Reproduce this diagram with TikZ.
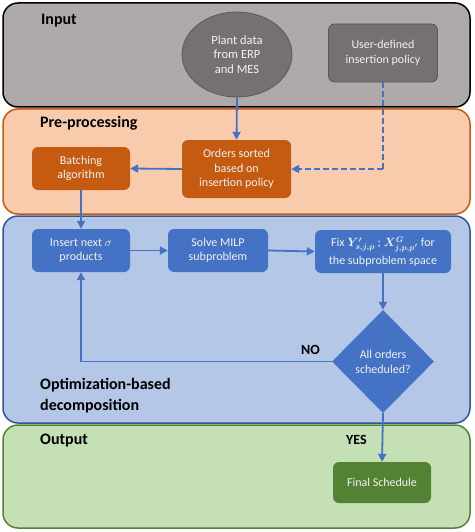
\documentclass[tikz,border=0pt]{standalone}
\usepackage{amsmath}
\usepackage{bm}
\usepackage{fontspec}
\setmainfont{Carlito}
\usetikzlibrary{shapes.geometric,arrows.meta}
\definecolor{ingray}{HTML}{AEAAAA}
\definecolor{darkgray}{HTML}{767171}
\definecolor{darkborder}{HTML}{595959}
\definecolor{prefill}{HTML}{F8CBAD}
\definecolor{preline}{HTML}{C55A11}
\definecolor{optfill}{HTML}{B4C7E7}
\definecolor{optline}{HTML}{2F5597}
\definecolor{nodeblue}{HTML}{4472C4}
\definecolor{outfill}{HTML}{C5E0B4}
\definecolor{outline}{HTML}{548235}
\definecolor{txtlight}{HTML}{F2F2F2}
\tikzset{
  band/.style={rounded corners=15pt, line width=1.5pt},
  hdr/.style={anchor=base west, font=\fontsize{16}{19}\selectfont\bfseries, inner sep=0pt},
  lbl/.style={anchor=base west, font=\fontsize{14}{16}\selectfont\bfseries, inner sep=0pt},
  box/.style={rounded corners=6pt, inner sep=0pt, align=center, text=txtlight,
    font=\fontsize{12}{14.5}\selectfont},
  conn/.style={draw=nodeblue, line width=1.8pt, -{Triangle[length=8pt,width=8pt]}},
  dline/.style={draw=nodeblue, line width=1.8pt, dash pattern=on 6pt off 3pt},
}
\begin{document}
\begin{tikzpicture}[x=1pt,y=-1pt]
\useasboundingbox (0,0) rectangle (474,532);
% bands
\path[band, fill=ingray, draw=black] (3,3) rectangle (470,107);
\path[band, fill=prefill, draw=preline] (3,109) rectangle (470,214);
\path[band, fill=optfill, draw=optline] (3,216) rectangle (470,423);
\path[band, fill=outfill, draw=outline] (3,425) rectangle (470,528);
% headers
\node[hdr] (hin) at (41,25) {Input};
\node[hdr] (hpre) at (40,128) {Pre-processing};
\node[hdr] (hopt) at (40,389) {Optimization-based};
\node[hdr] (hopt2) at (40,410) {decomposition};
\node[hdr] (hout) at (40,444) {Output};
% nodes
\node[ellipse, fill=darkgray, draw=darkborder, line width=0.8pt, minimum width=110pt, minimum height=85pt,
  inner sep=0pt, align=center, text=txtlight, font=\fontsize{12.5}{14.5}\selectfont] (plant) at (237,54.5)
  {Plant data\\from ERP\\and MES};
\node[box, fill=darkgray, draw=darkborder, line width=0.8pt, minimum width=109pt, minimum height=58pt] (user) at (383,53)
  {User-defined\\insertion policy};
\node[box, fill=preline, minimum width=109pt, minimum height=58pt] (orders) at (236.5,169)
  {Orders sorted\\based on\\insertion policy};
\node[box, fill=preline, minimum width=98pt, minimum height=43pt] (batch) at (81,168.5)
  {Batching\\algorithm};
\node[box, fill=nodeblue, minimum width=98pt, minimum height=43pt] (insert) at (81,250.5)
  {Insert next $\sigma$\\products};
\node[box, fill=nodeblue, minimum width=100pt, minimum height=43pt] (solve) at (218,250.5)
  {Solve MILP\\subproblem};
\node[box, fill=nodeblue, minimum width=136pt, minimum height=43pt] (fix) at (383,251.5)
  {Fix $\bm{Y'_{s,j,p}}$ ; $\bm{X^{G}_{j,p,p'}}$ for\\[3pt]the subproblem space};
\node[diamond, fill=nodeblue, minimum width=102pt, minimum height=103pt, inner sep=0pt, align=center,
  text=txtlight, font=\fontsize{12}{15}\selectfont] (dec) at (383,361.5)
  {All orders\\scheduled?};
\node[box, fill=outline, minimum width=98pt, minimum height=41pt] (final) at (382,482.5)
  {Final Schedule};
% labels
\node[lbl] (no) at (301,354) {NO};
\node[lbl] (yes) at (346,444) {YES};
% connectors
\draw[conn] (plant.south) -- (orders.north);
\coordinate (ucorner) at (user.south |- orders.east);
\draw[dline] (user.south) -- (ucorner);
\draw[dline] (ucorner) -- ([xshift=9pt]orders.east);
\draw[conn] ([xshift=10pt]orders.east) -- (orders.east);
\draw[conn] (orders.west) -- (batch.east);
\draw[conn] (batch.south) -- (insert.north);
\draw[conn] (insert.east) -- (solve.west);
\draw[conn] (solve.east) -- (fix.west);
\draw[conn] (fix.south) -- (dec.north);
\coordinate (ncorner) at (insert.south |- dec.west);
\draw[conn] (dec.west) -- (ncorner) -- (insert.south);
\draw[conn] (dec.south) -- (final.north);
\end{tikzpicture}
\end{document}
